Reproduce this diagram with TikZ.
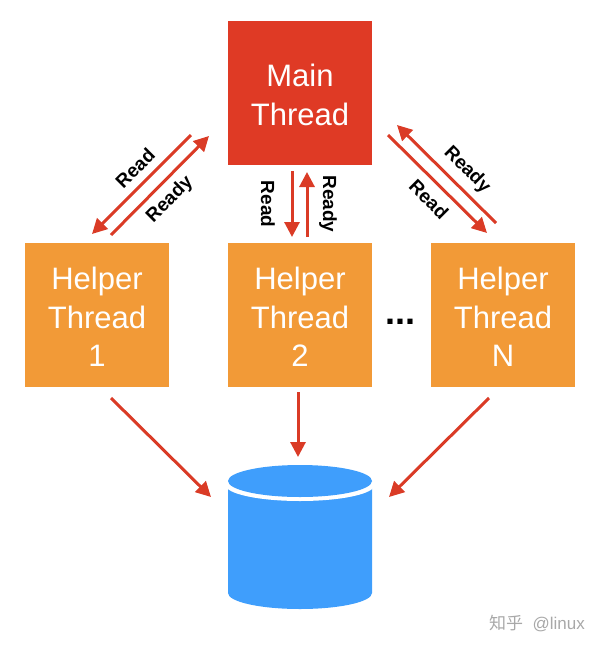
\documentclass[tikz,border=0pt]{standalone}
\usepackage{fontspec}
\setmainfont{Liberation Sans}
\newfontfamily\cjkfont{Noto Sans CJK SC}
\usetikzlibrary{arrows.meta}
\definecolor{mainred}{HTML}{DF3A25}
\definecolor{helperorange}{HTML}{F29A37}
\definecolor{diskblue}{HTML}{3F9EFC}
\definecolor{arrowred}{HTML}{DA3B26}
\definecolor{markgray}{HTML}{A8A8A8}
\tikzset{
  threadbox/.style={minimum width=144pt,minimum height=144pt,inner sep=0pt},
  threadtext/.style={inner sep=0pt,yshift=-2pt,align=center,text=white,font=\fontsize{31}{38.5}\selectfont},
  flow/.style={draw=arrowred,line width=3pt,-{Triangle[length=15pt,width=15pt]}},
  tag/.style={inner sep=0pt,font=\fontsize{19}{20}\selectfont\bfseries}
}
\begin{document}
\begin{tikzpicture}[x=1pt,y=-1pt]
\useasboundingbox (0,0) rectangle (600,648);
\node [threadbox,fill=mainred,label={[threadtext]center:Main\\Thread}] (main) at (300,93) {};
\node [threadbox,fill=helperorange,label={[threadtext]center:Helper\\Thread\\1}] (helpera) at (97,315) {};
\node [threadbox,fill=helperorange,label={[threadtext]center:Helper\\Thread\\2}] (helperb) at (300,315) {};
\node [threadbox,fill=helperorange,label={[threadtext]center:Helper\\Thread\\N}] (helpern) at (503,315) {};
\node [inner sep=0pt,font=\fontsize{36}{36}\selectfont\bfseries] (dots) at (400,322) {...};
% disk
\fill [diskblue] (228,481) -- (228,593) arc (180:0:72 and 16) -- (372,481) -- cycle;
\fill [white] (300,485) ellipse (74.5 and 16);
\fill [diskblue] (300,481) ellipse (72 and 16);
% arrow ends
\coordinate (reada0) at (191,135);
\coordinate (reada1) at (92,234);
\coordinate (readya0) at (111,235);
\coordinate (readya1) at (209,136);
\coordinate (readb0) at (292,171);
\coordinate (readb1) at (292,237);
\coordinate (readyb0) at (307,237);
\coordinate (readyb1) at (307,172);
\coordinate (readn0) at (388,135);
\coordinate (readn1) at (487,233);
\coordinate (readyn0) at (496,223);
\coordinate (readyn1) at (397,125);
\coordinate (outa0) at (111,398);
\coordinate (outa1) at (211,497);
\coordinate (outb0) at (298,392);
\coordinate (outb1) at (298,457);
\coordinate (outn0) at (489,398);
\coordinate (outn1) at (389,497);
\draw [flow] (reada0) -- (reada1);
\draw [flow] (readya0) -- (readya1);
\draw [flow] (readb0) -- (readb1);
\draw [flow] (readyb0) -- (readyb1);
\draw [flow] (readn0) -- (readn1);
\draw [flow] (readyn0) -- (readyn1);
\draw [flow] (outa0) -- (outa1);
\draw [flow] (outb0) -- (outb1);
\draw [flow] (outn0) -- (outn1);
\node [tag,rotate=45] (tagreada) at (135,168) {Read};
\node [tag,rotate=45] (tagreadya) at (170,200) {Ready};
\node [tag,rotate=-90] (tagreadb) at (268,204) {Read};
\node [tag,rotate=-90] (tagreadyb) at (328,204) {Ready};
\node [tag,rotate=-45] (tagreadyn) at (467,170) {Ready};
\node [tag,rotate=-45] (tagreadn) at (429,199) {Read};
\node [inner sep=0pt,text=markgray,font=\fontsize{17}{18}\selectfont] (mark) at (537,624) {{\cjkfont 知乎}\ \ @linux};
\end{tikzpicture}
\end{document}
